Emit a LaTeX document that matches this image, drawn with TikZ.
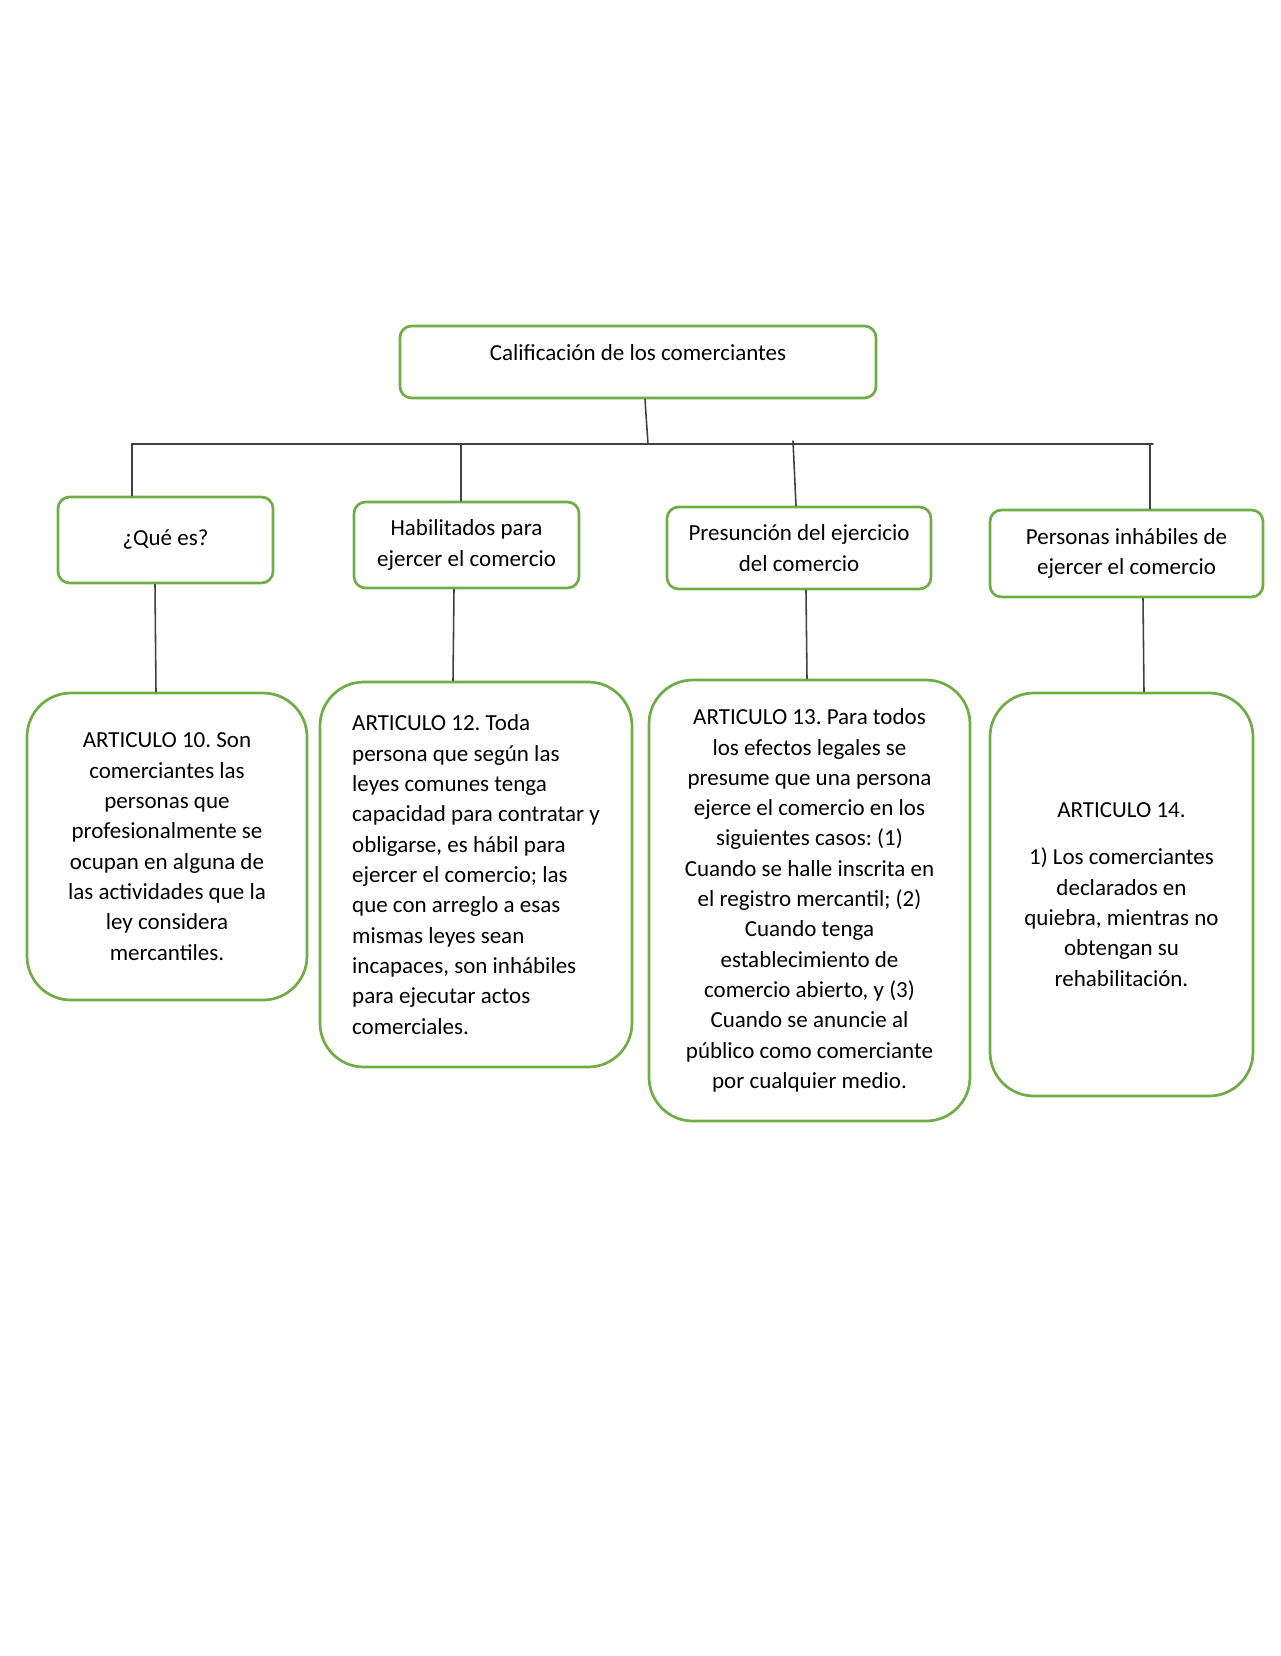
\documentclass[tikz,border=0pt]{standalone}
\usepackage{fontspec}
\setmainfont{Carlito}
\usetikzlibrary{positioning}
\tikzset{x=0.478125pt, y=-0.478125pt}
\frenchspacing

\begin{document}
\begin{tikzpicture}
% Style
[
    line cap=round,
    box size/.style 2 args={minimum width=#1*0.478125pt, minimum height=#2*0.478125pt},
    head box/.style={draw=box_green, line width=1.3pt, rounded corners=5.5pt,
        align=center, inner sep=0pt, font=\fontsize{11pt}{14.5pt}\selectfont},
    article box/.style={head box, rounded corners=21pt},
    link line/.style={draw=black!75, line width=0.75pt}
]

% Define: Colors
\definecolor{box_green}{HTML}{70AD47}

% Define: Page
\useasboundingbox (0,0) rectangle (1280,1656);

%================================== Boxes ==================================
{
    % Draw: Title
    \node [head box, box size={476}{72}] (title) at (638,362)
        {Calificación de los comerciantes\\[-5pt]~};

    % Draw: Headings
    \node [head box, box size={215}{86}] (que)  at (165.5,540)  {¿Qué es?};
    \node [head box, box size={225}{86}] (hab)  at (466.5,545)  {Habilitados para\\ejercer el comercio};
    \node [head box, box size={264}{82}] (pres) at (799,548)    {Presunción del ejercicio\\del comercio};
    \node [head box, box size={273}{87}] (inh)  at (1126.5,553.5) {Personas inhábiles de\\ejercer el comercio};

    % Draw: Articles
    \node [article box, box size={280}{307}] (art10) at (167,846.5) {
        ARTICULO 10. Son\\comerciantes las\\personas que\\profesionalmente se\\
        ocupan en alguna de\\las actividades que la\\ley considera\\mercantiles.
    };
    \node [article box, box size={312}{385}, align=left] (art12) at (476,874.5) {
        ARTICULO 12. Toda\\persona que según las\\leyes comunes tenga\\
        capacidad para contratar y\\obligarse, es hábil para\\ejercer el comercio; las\\
        que con arreglo a esas\\mismas leyes sean\\incapaces, son inhábiles\\
        para ejecutar actos\\comerciales.
    };
    \node [article box, box size={321}{441}] (art13) at (809.5,900.5) {
        ARTICULO 13. Para todos\\los efectos legales se\\presume que una persona\\
        ejerce el comercio en los\\siguientes casos: (1)\\Cuando se halle inscrita en\\
        el registro mercantil; (2)\\Cuando tenga\\establecimiento de\\
        comercio abierto, y (3)\\Cuando se anuncie al\\público como comerciante\\
        por cualquier medio.
    };
    \node [article box, box size={263}{403}] (art14) at (1121.5,894.5) {
        ARTICULO 14.\\[8pt]1) Los comerciantes\\declarados en\\quiebra, mientras no\\
        obtengan su\\rehabilitación.
    };
}

%================================== Links ==================================
{
    % Draw: Bus
    \coordinate (bus west) at (132,444);
    \coordinate (bus east) at (1153,444);
    \coordinate (hub)      at (648,444);
    \draw [link line] (bus west) -- (bus east);
    \draw [link line] (645,0 |- title.south) -- (hub);

    % Draw: Bus to headings
    \foreach \xa/\ya/\xb/\down in {132/444/132/que, 461/444/461/hab, 793/441/796/pres, 1150/444/1150/inh} {
        \draw [link line] (\xa,\ya) -- (\xb,0 |- \down.north);
    }

    % Draw: Headings to articles
    \foreach \up/\down/\xa/\xb in {que/art10/155/156, hab/art12/454/453, pres/art13/806/807, inh/art14/1143/1144} {
        \draw [link line] (\xa,0 |- \up.south) -- (\xb,0 |- \down.north);
    }
}
%==================================== END ====================================
\end{tikzpicture}
\end{document}
